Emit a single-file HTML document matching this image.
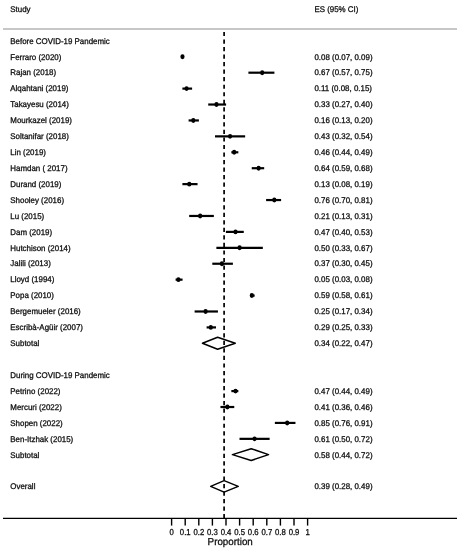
<!DOCTYPE html>
<html><head><meta charset="utf-8"><style>
html,body{margin:0;padding:0;background:#fff;}
svg{display:block;}
.t{font-family:"Liberation Sans",Arial,sans-serif;font-size:8.25px;fill:#0d0d0d;text-rendering:geometricPrecision;stroke:#0d0d0d;stroke-width:0.28px;}
.tk{font-family:"Liberation Sans",Arial,sans-serif;font-size:8.6px;fill:#0d0d0d;text-anchor:middle;text-rendering:geometricPrecision;stroke:#0d0d0d;stroke-width:0.28px;}
.ax{font-family:"Liberation Sans",Arial,sans-serif;font-size:10.1px;fill:#0d0d0d;text-anchor:middle;text-rendering:geometricPrecision;stroke:#0d0d0d;stroke-width:0.28px;}
</style></head><body>
<svg width="460" height="550" viewBox="0 0 460 550">
<rect x="0" y="0" width="460" height="550" fill="#fff"/>
<text transform="translate(10.30,12.20) scale(0.96,1)" class="t">Study</text>
<text transform="translate(314.40,12.40) scale(0.96,1)" class="t">ES (95% CI)</text>
<line x1="3" y1="29.05" x2="457" y2="29.05" stroke="#b4b4b4" stroke-width="1.5"/>
<line x1="224.1" y1="31.9" x2="224.1" y2="518" stroke="#000" stroke-width="1.7" stroke-dasharray="4.2 3.334"/>
<text transform="translate(10.30,43.60) scale(0.96,1)" class="t">Before COVID-19 Pandemic</text>
<text transform="translate(10.30,59.52) scale(0.96,1)" class="t">Ferraro (2020)</text>
<text transform="translate(314.40,59.52) scale(0.96,1)" class="t">0.08 (0.07, 0.09)</text>
<line x1="181.02" y1="56.77" x2="183.94" y2="56.77" stroke="#000" stroke-width="2.2"/>
<ellipse cx="182.48" cy="56.77" rx="2.1" ry="2.45" fill="#000"/>
<text transform="translate(10.30,75.44) scale(0.96,1)" class="t">Rajan (2018)</text>
<text transform="translate(314.40,75.44) scale(0.96,1)" class="t">0.67 (0.57, 0.75)</text>
<line x1="248.40" y1="72.69" x2="274.40" y2="72.69" stroke="#000" stroke-width="2.2"/>
<ellipse cx="262.20" cy="72.69" rx="2.1" ry="2.45" fill="#000"/>
<text transform="translate(10.30,91.36) scale(0.96,1)" class="t">Alqahtani (2019)</text>
<text transform="translate(314.40,91.36) scale(0.96,1)" class="t">0.11 (0.08, 0.15)</text>
<line x1="182.38" y1="88.61" x2="192.10" y2="88.61" stroke="#000" stroke-width="2.2"/>
<ellipse cx="186.56" cy="88.61" rx="2.1" ry="2.45" fill="#000"/>
<text transform="translate(10.30,107.28) scale(0.96,1)" class="t">Takayesu (2014)</text>
<text transform="translate(314.40,107.28) scale(0.96,1)" class="t">0.33 (0.27, 0.40)</text>
<line x1="208.22" y1="104.53" x2="226.10" y2="104.53" stroke="#000" stroke-width="2.2"/>
<ellipse cx="216.48" cy="104.53" rx="2.1" ry="2.45" fill="#000"/>
<text transform="translate(10.30,123.20) scale(0.96,1)" class="t">Mourkazel (2019)</text>
<text transform="translate(314.40,123.20) scale(0.96,1)" class="t">0.16 (0.13, 0.20)</text>
<line x1="188.60" y1="120.45" x2="198.90" y2="120.45" stroke="#000" stroke-width="2.2"/>
<ellipse cx="193.30" cy="120.45" rx="2.1" ry="2.45" fill="#000"/>
<text transform="translate(10.30,139.12) scale(0.96,1)" class="t">Soltanifar (2018)</text>
<text transform="translate(314.40,139.12) scale(0.96,1)" class="t">0.43 (0.32, 0.54)</text>
<line x1="215.02" y1="136.37" x2="245.14" y2="136.37" stroke="#000" stroke-width="2.2"/>
<ellipse cx="230.08" cy="136.37" rx="2.1" ry="2.45" fill="#000"/>
<text transform="translate(10.30,155.04) scale(0.96,1)" class="t">Lin (2019)</text>
<text transform="translate(314.40,155.04) scale(0.96,1)" class="t">0.46 (0.44, 0.49)</text>
<line x1="231.34" y1="152.29" x2="238.34" y2="152.29" stroke="#000" stroke-width="2.2"/>
<ellipse cx="234.16" cy="152.29" rx="2.1" ry="2.45" fill="#000"/>
<text transform="translate(10.30,170.96) scale(0.96,1)" class="t">Hamdan ( 2017)</text>
<text transform="translate(314.40,170.96) scale(0.96,1)" class="t">0.64 (0.59, 0.68)</text>
<line x1="251.74" y1="168.21" x2="264.18" y2="168.21" stroke="#000" stroke-width="2.2"/>
<ellipse cx="258.64" cy="168.21" rx="2.1" ry="2.45" fill="#000"/>
<text transform="translate(10.30,186.88) scale(0.96,1)" class="t">Durand (2019)</text>
<text transform="translate(314.40,186.88) scale(0.96,1)" class="t">0.13 (0.08, 0.19)</text>
<line x1="182.38" y1="184.13" x2="197.54" y2="184.13" stroke="#000" stroke-width="2.2"/>
<ellipse cx="189.28" cy="184.13" rx="2.1" ry="2.45" fill="#000"/>
<text transform="translate(10.30,202.80) scale(0.96,1)" class="t">Shooley (2016)</text>
<text transform="translate(314.40,202.80) scale(0.96,1)" class="t">0.76 (0.70, 0.81)</text>
<line x1="266.10" y1="200.05" x2="281.10" y2="200.05" stroke="#000" stroke-width="2.2"/>
<ellipse cx="274.30" cy="200.05" rx="2.1" ry="2.45" fill="#000"/>
<text transform="translate(10.30,218.72) scale(0.96,1)" class="t">Lu (2015)</text>
<text transform="translate(314.40,218.72) scale(0.96,1)" class="t">0.21 (0.13, 0.31)</text>
<line x1="189.18" y1="215.97" x2="213.86" y2="215.97" stroke="#000" stroke-width="2.2"/>
<ellipse cx="200.16" cy="215.97" rx="2.1" ry="2.45" fill="#000"/>
<text transform="translate(10.30,234.64) scale(0.96,1)" class="t">Dam (2019)</text>
<text transform="translate(314.40,234.64) scale(0.96,1)" class="t">0.47 (0.40, 0.53)</text>
<line x1="225.90" y1="231.89" x2="243.78" y2="231.89" stroke="#000" stroke-width="2.2"/>
<ellipse cx="235.52" cy="231.89" rx="2.1" ry="2.45" fill="#000"/>
<text transform="translate(10.30,250.56) scale(0.96,1)" class="t">Hutchison (2014)</text>
<text transform="translate(314.40,250.56) scale(0.96,1)" class="t">0.50 (0.33, 0.67)</text>
<line x1="216.38" y1="247.81" x2="262.82" y2="247.81" stroke="#000" stroke-width="2.2"/>
<ellipse cx="239.60" cy="247.81" rx="2.1" ry="2.45" fill="#000"/>
<text transform="translate(10.30,266.48) scale(0.96,1)" class="t">Jalili (2013)</text>
<text transform="translate(314.40,266.48) scale(0.96,1)" class="t">0.37 (0.30, 0.45)</text>
<line x1="212.30" y1="263.73" x2="232.90" y2="263.73" stroke="#000" stroke-width="2.2"/>
<ellipse cx="221.92" cy="263.73" rx="2.1" ry="2.45" fill="#000"/>
<text transform="translate(10.30,282.40) scale(0.96,1)" class="t">Lloyd (1994)</text>
<text transform="translate(314.40,282.40) scale(0.96,1)" class="t">0.05 (0.03, 0.08)</text>
<line x1="175.58" y1="279.65" x2="182.58" y2="279.65" stroke="#000" stroke-width="2.2"/>
<ellipse cx="178.40" cy="279.65" rx="2.1" ry="2.45" fill="#000"/>
<text transform="translate(10.30,298.32) scale(0.96,1)" class="t">Popa (2010)</text>
<text transform="translate(314.40,298.32) scale(0.96,1)" class="t">0.59 (0.58, 0.61)</text>
<line x1="250.38" y1="295.57" x2="254.66" y2="295.57" stroke="#000" stroke-width="2.2"/>
<ellipse cx="251.84" cy="295.57" rx="2.1" ry="2.45" fill="#000"/>
<text transform="translate(10.30,314.24) scale(0.96,1)" class="t">Bergemueler (2016)</text>
<text transform="translate(314.40,314.24) scale(0.96,1)" class="t">0.25 (0.17, 0.34)</text>
<line x1="194.62" y1="311.49" x2="217.94" y2="311.49" stroke="#000" stroke-width="2.2"/>
<ellipse cx="205.60" cy="311.49" rx="2.1" ry="2.45" fill="#000"/>
<text transform="translate(10.30,330.16) scale(0.96,1)" class="t">Escribà-Agüir (2007)</text>
<text transform="translate(314.40,330.16) scale(0.96,1)" class="t">0.29 (0.25, 0.33)</text>
<line x1="206.60" y1="327.41" x2="216.00" y2="327.41" stroke="#000" stroke-width="2.2"/>
<ellipse cx="210.80" cy="327.41" rx="2.1" ry="2.45" fill="#000"/>
<text transform="translate(10.30,346.08) scale(0.96,1)" class="t">Subtotal</text>
<text transform="translate(314.40,346.08) scale(0.96,1)" class="t">0.34 (0.22, 0.47)</text>
<polygon points="202.45,343.20 217.60,337.20 235.25,343.20 217.60,349.20" fill="none" stroke="#000" stroke-width="1.5" stroke-linejoin="round"/>
<text transform="translate(10.30,377.92) scale(0.96,1)" class="t">During COVID-19 Pandemic</text>
<text transform="translate(10.30,393.84) scale(0.96,1)" class="t">Petrino (2022)</text>
<text transform="translate(314.40,393.84) scale(0.96,1)" class="t">0.47 (0.44, 0.49)</text>
<line x1="231.34" y1="391.09" x2="238.34" y2="391.09" stroke="#000" stroke-width="2.2"/>
<ellipse cx="235.52" cy="391.09" rx="2.1" ry="2.45" fill="#000"/>
<text transform="translate(10.30,409.76) scale(0.96,1)" class="t">Mercuri (2022)</text>
<text transform="translate(314.40,409.76) scale(0.96,1)" class="t">0.41 (0.36, 0.46)</text>
<line x1="220.46" y1="407.01" x2="234.26" y2="407.01" stroke="#000" stroke-width="2.2"/>
<ellipse cx="227.36" cy="407.01" rx="2.1" ry="2.45" fill="#000"/>
<text transform="translate(10.30,425.68) scale(0.96,1)" class="t">Shopen (2022)</text>
<text transform="translate(314.40,425.68) scale(0.96,1)" class="t">0.85 (0.76, 0.91)</text>
<line x1="274.86" y1="422.93" x2="295.46" y2="422.93" stroke="#000" stroke-width="2.2"/>
<ellipse cx="287.20" cy="422.93" rx="2.1" ry="2.45" fill="#000"/>
<text transform="translate(10.30,441.60) scale(0.96,1)" class="t">Ben-Itzhak (2015)</text>
<text transform="translate(314.40,441.60) scale(0.96,1)" class="t">0.61 (0.50, 0.72)</text>
<line x1="239.50" y1="438.85" x2="269.62" y2="438.85" stroke="#000" stroke-width="2.2"/>
<ellipse cx="254.56" cy="438.85" rx="2.1" ry="2.45" fill="#000"/>
<text transform="translate(10.30,457.52) scale(0.96,1)" class="t">Subtotal</text>
<text transform="translate(314.40,457.52) scale(0.96,1)" class="t">0.58 (0.44, 0.72)</text>
<polygon points="232.45,454.60 251.20,448.70 268.55,454.60 251.20,460.50" fill="none" stroke="#000" stroke-width="1.5" stroke-linejoin="round"/>
<text transform="translate(10.30,489.36) scale(0.96,1)" class="t">Overall</text>
<text transform="translate(314.40,489.36) scale(0.96,1)" class="t">0.39 (0.28, 0.49)</text>
<polygon points="210.65,486.40 224.10,480.65 238.25,486.40 224.10,492.15" fill="none" stroke="#000" stroke-width="1.5" stroke-linejoin="round"/>
<line x1="3" y1="518.3" x2="457" y2="518.3" stroke="#000" stroke-width="1.35"/>
<line x1="171.60" y1="518" x2="171.60" y2="525.6" stroke="#000" stroke-width="1.4"/>
<text transform="translate(171.60,535.0) scale(0.9,1)" class="tk">0</text>
<line x1="185.20" y1="518" x2="185.20" y2="525.6" stroke="#000" stroke-width="1.4"/>
<text transform="translate(185.20,535.0) scale(0.9,1)" class="tk">0.1</text>
<line x1="198.80" y1="518" x2="198.80" y2="525.6" stroke="#000" stroke-width="1.4"/>
<text transform="translate(198.80,535.0) scale(0.9,1)" class="tk">0.2</text>
<line x1="212.40" y1="518" x2="212.40" y2="525.6" stroke="#000" stroke-width="1.4"/>
<text transform="translate(212.40,535.0) scale(0.9,1)" class="tk">0.3</text>
<line x1="226.00" y1="518" x2="226.00" y2="525.6" stroke="#000" stroke-width="1.4"/>
<text transform="translate(226.00,535.0) scale(0.9,1)" class="tk">0.4</text>
<line x1="239.60" y1="518" x2="239.60" y2="525.6" stroke="#000" stroke-width="1.4"/>
<text transform="translate(239.60,535.0) scale(0.9,1)" class="tk">0.5</text>
<line x1="253.20" y1="518" x2="253.20" y2="525.6" stroke="#000" stroke-width="1.4"/>
<text transform="translate(253.20,535.0) scale(0.9,1)" class="tk">0.6</text>
<line x1="266.80" y1="518" x2="266.80" y2="525.6" stroke="#000" stroke-width="1.4"/>
<text transform="translate(266.80,535.0) scale(0.9,1)" class="tk">0.7</text>
<line x1="280.40" y1="518" x2="280.40" y2="525.6" stroke="#000" stroke-width="1.4"/>
<text transform="translate(280.40,535.0) scale(0.9,1)" class="tk">0.8</text>
<line x1="294.00" y1="518" x2="294.00" y2="525.6" stroke="#000" stroke-width="1.4"/>
<text transform="translate(294.00,535.0) scale(0.9,1)" class="tk">0.9</text>
<line x1="307.60" y1="518" x2="307.60" y2="525.6" stroke="#000" stroke-width="1.4"/>
<text transform="translate(307.60,535.0) scale(0.9,1)" class="tk">1</text>
<text transform="translate(230.2,545.3) scale(0.97,1)" class="ax">Proportion</text>
</svg>
</body></html>
